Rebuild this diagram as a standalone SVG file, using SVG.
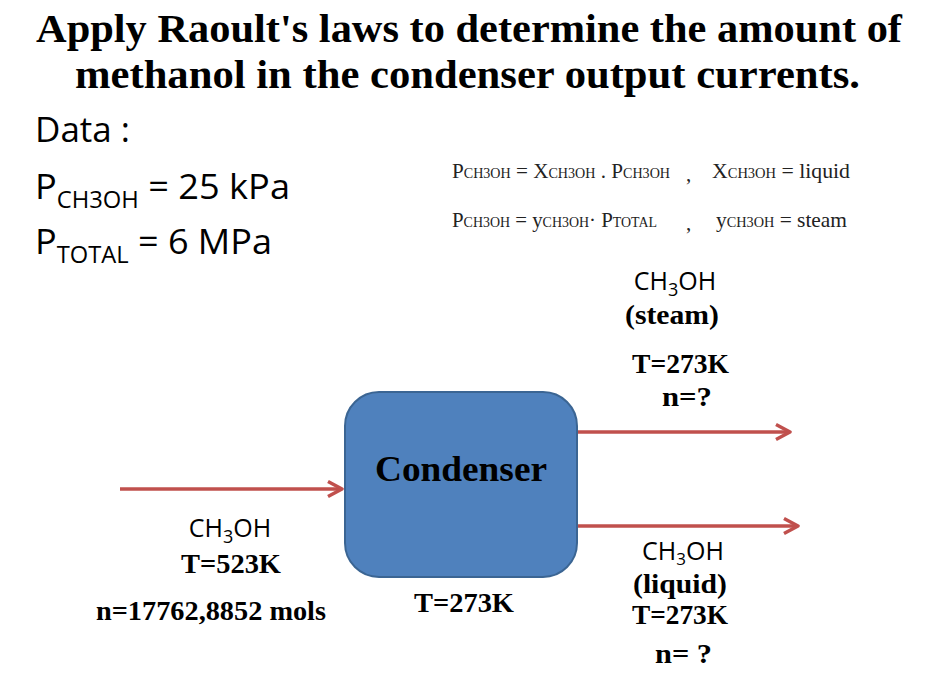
<svg xmlns="http://www.w3.org/2000/svg" width="939" height="688" viewBox="0 0 939 688">
<style>
.title{font-family:"Liberation Serif",serif;font-weight:bold;font-size:41px;fill:#000}
.sans{font-family:"Open Sans","Noto Sans",sans-serif;fill:#000}
.serifb{font-family:"Liberation Serif",serif;font-weight:bold;fill:#000}
.f{font-family:"Liberation Serif",serif;font-size:21px;fill:#222}
.fs{font-size:14px}
.conn{stroke:#C0504D;stroke-width:3.5;fill:none}
</style>
<defs>
<marker id="arr" viewBox="0 0 22 22" refX="20" refY="11" markerWidth="22" markerHeight="22" markerUnits="userSpaceOnUse" orient="auto">
<path d="M6,3.5 L20,11 L6,18.5" fill="none" stroke="#C0504D" stroke-width="3.5" stroke-linejoin="round"/>
</marker>
</defs>
<rect width="939" height="688" fill="#fff"/>
<text class="title" x="36" y="42" textLength="866" lengthAdjust="spacingAndGlyphs">Apply Raoult's laws to determine the amount of</text>
<text class="title" x="75" y="88" textLength="785" lengthAdjust="spacingAndGlyphs">methanol in the condenser output currents.</text>
<text class="sans" x="35" y="142" font-size="34" textLength="95" lengthAdjust="spacingAndGlyphs">Data :</text>
<text class="sans" x="35" y="199" font-size="35" textLength="255" lengthAdjust="spacingAndGlyphs">P<tspan font-size="23" dy="9">CH3OH</tspan><tspan dy="-9"> = 25 kPa</tspan></text>
<text class="sans" x="35" y="254" font-size="35" textLength="237" lengthAdjust="spacingAndGlyphs">P<tspan font-size="23" dy="9">TOTAL</tspan><tspan dy="-9"> = 6 MPa</tspan></text>
<text class="f" x="452" y="178" textLength="218" lengthAdjust="spacingAndGlyphs">P<tspan class="fs">CH3OH</tspan> = X<tspan class="fs">CH3OH</tspan> . P<tspan class="fs">CH3OH</tspan></text>
<text class="f" x="686" y="181" font-size="12">,</text>
<text class="f" x="712" y="178" textLength="138" lengthAdjust="spacingAndGlyphs">X<tspan class="fs">CH3OH</tspan> = liquid</text>
<text class="f" x="452" y="227" textLength="205" lengthAdjust="spacingAndGlyphs">P<tspan class="fs">CH3OH</tspan> = y<tspan class="fs">CH3OH</tspan>· P<tspan class="fs">TOTAL</tspan></text>
<text class="f" x="686" y="230" font-size="12">,</text>
<text class="f" x="716" y="227" textLength="131" lengthAdjust="spacingAndGlyphs">y<tspan class="fs">CH3OH</tspan> = steam</text>
<g id="connectors">
<line class="conn" x1="120" y1="489" x2="342" y2="489" marker-end="url(#arr)"/>
<line class="conn" x1="577" y1="432" x2="790" y2="432" marker-end="url(#arr)"/>
<line class="conn" x1="577" y1="526" x2="798" y2="526" marker-end="url(#arr)"/>
</g>
<g id="condenser">
<rect x="345" y="392" width="232" height="185" rx="34" fill="#4F81BD" stroke="#3B6593" stroke-width="2"/>
<text class="serifb" x="375" y="481" font-size="35" textLength="172" lengthAdjust="spacingAndGlyphs">Condenser</text>
</g>
<g id="input-label">
<text class="sans" x="230" y="537" font-size="25" text-anchor="middle">CH<tspan font-size="18" dy="6">3</tspan><tspan dy="-6">OH</tspan></text>
<text class="serifb" x="181" y="573" font-size="28" textLength="100" lengthAdjust="spacingAndGlyphs">T=523K</text>
<text class="serifb" x="96" y="620" font-size="27" textLength="230" lengthAdjust="spacingAndGlyphs">n=17762,8852 mols</text>
</g>
<g id="condenser-temp">
<text class="serifb" x="414" y="612" font-size="28" textLength="100" lengthAdjust="spacingAndGlyphs">T=273K</text>
</g>
<g id="steam-label">
<text class="sans" x="675" y="290" font-size="25" text-anchor="middle">CH<tspan font-size="18" dy="6">3</tspan><tspan dy="-6">OH</tspan></text>
<text class="serifb" x="625" y="324" font-size="28" textLength="94" lengthAdjust="spacingAndGlyphs">(steam)</text>
<text class="serifb" x="632" y="373" font-size="28" textLength="97" lengthAdjust="spacingAndGlyphs">T=273K</text>
<text class="serifb" x="662" y="406" font-size="28" textLength="50" lengthAdjust="spacingAndGlyphs">n=?</text>
</g>
<g id="liquid-label">
<text class="sans" x="683" y="560" font-size="25" text-anchor="middle">CH<tspan font-size="17" dy="5">3</tspan><tspan dy="-5">OH</tspan></text>
<text class="serifb" x="633" y="593" font-size="28" textLength="94" lengthAdjust="spacingAndGlyphs">(liquid)</text>
<text class="serifb" x="632" y="624" font-size="28" textLength="96" lengthAdjust="spacingAndGlyphs">T=273K</text>
<text class="serifb" x="655" y="663" font-size="28" textLength="57" lengthAdjust="spacingAndGlyphs">n= ?</text>
</g>
</svg>
